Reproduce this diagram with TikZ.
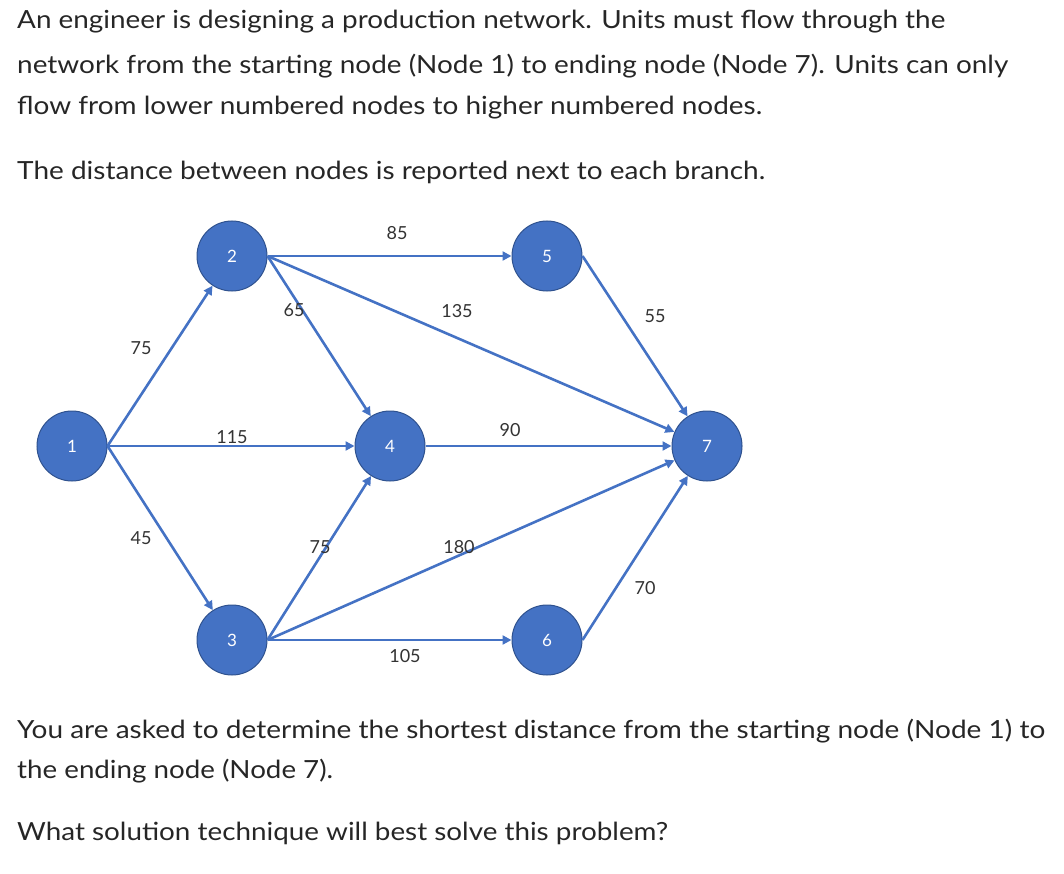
\documentclass[tikz,border=0pt]{standalone}
\usepackage{fontspec}
\usepackage{graphicx}
\setmainfont{Lato}
\usetikzlibrary{arrows.meta}
\definecolor{nb}{HTML}{4472C4}
\definecolor{nd}{HTML}{2F528F}
\newcommand{\fitw}[2]{\resizebox{#1}{\height}{#2}}
\begin{document}
\begin{tikzpicture}[x=1pt,y=-1pt,
  nd/.style={circle,fill=nb,draw=nd,line width=1pt,minimum size=70pt,inner sep=0pt,text=white,font=\fontsize{17}{20}\selectfont},
  ed/.style={draw=nb,line width=2.6pt,-{Triangle[length=9pt,width=9pt]}},
  lb/.style={font=\fontsize{18}{20}\selectfont,text=black!80},
  tx/.style={anchor=west,font=\fontsize{25}{28}\selectfont,text=black!85,inner sep=0pt}]
\useasboundingbox (0,0) rectangle (1064,874);
\node[tx] (t1) at (17,22) {\fitw{928pt}{An engineer is designing a production network. Units must flow through the}};
\node[tx] (t2) at (17,66) {\fitw{991pt}{network from the starting node (Node 1) to ending node (Node 7). Units can only}};
\node[tx] (t3) at (17,108) {\fitw{745pt}{flow from lower numbered nodes to higher numbered nodes.}};
\node[tx] (t4) at (17,172) {\fitw{748pt}{The distance between nodes is reported next to each branch.}};
\node[tx] (t5) at (17,731) {\fitw{1028pt}{You are asked to determine the shortest distance from the starting node (Node 1) to}};
\node[tx] (t6) at (17,771) {\fitw{316pt}{the ending node (Node 7).}};
\node[tx] (t7) at (17,833) {\fitw{651pt}{What solution technique will best solve this problem?}};
\node[nd] (n1) at (72,446) {1};
\node[nd] (n2) at (232,256) {2};
\node[nd] (n3) at (232,640) {3};
\node[nd] (n4) at (390,446) {4};
\node[nd] (n5) at (547,256) {5};
\node[nd] (n6) at (547,640) {6};
\node[nd] (n7) at (707,446) {7};
\draw[ed] (n1.east) -- (n2);
\draw[ed] (n1.east) -- (n4);
\draw[ed] (n1.east) -- (n3);
\draw[ed] (n2.east) -- (n5);
\draw[ed] (n2.east) -- (n4);
\draw[ed] (n2.east) -- (n7);
\draw[ed] (n3.east) -- (n4);
\draw[ed] (n3.east) -- (n7);
\draw[ed] (n3.east) -- (n6);
\draw[ed] (n4.east) -- (n7);
\draw[ed] (n5.east) -- (n7);
\draw[ed] (n6.east) -- (n7);
\node[lb] (l1) at (141,348) {75};
\node[lb] (l2) at (232,437) {115};
\node[lb] (l3) at (141,538) {45};
\node[lb] (l4) at (294,310) {65};
\node[lb] (l5) at (397,233) {85};
\node[lb] (l6) at (457,311) {135};
\node[lb] (l7) at (655,316) {55};
\node[lb] (l8) at (510,430) {90};
\node[lb] (l9) at (320,547) {75};
\node[lb] (l10) at (459,547) {180};
\node[lb] (l11) at (405,656) {105};
\node[lb] (l12) at (645,588) {70};
\end{tikzpicture}
\end{document}
